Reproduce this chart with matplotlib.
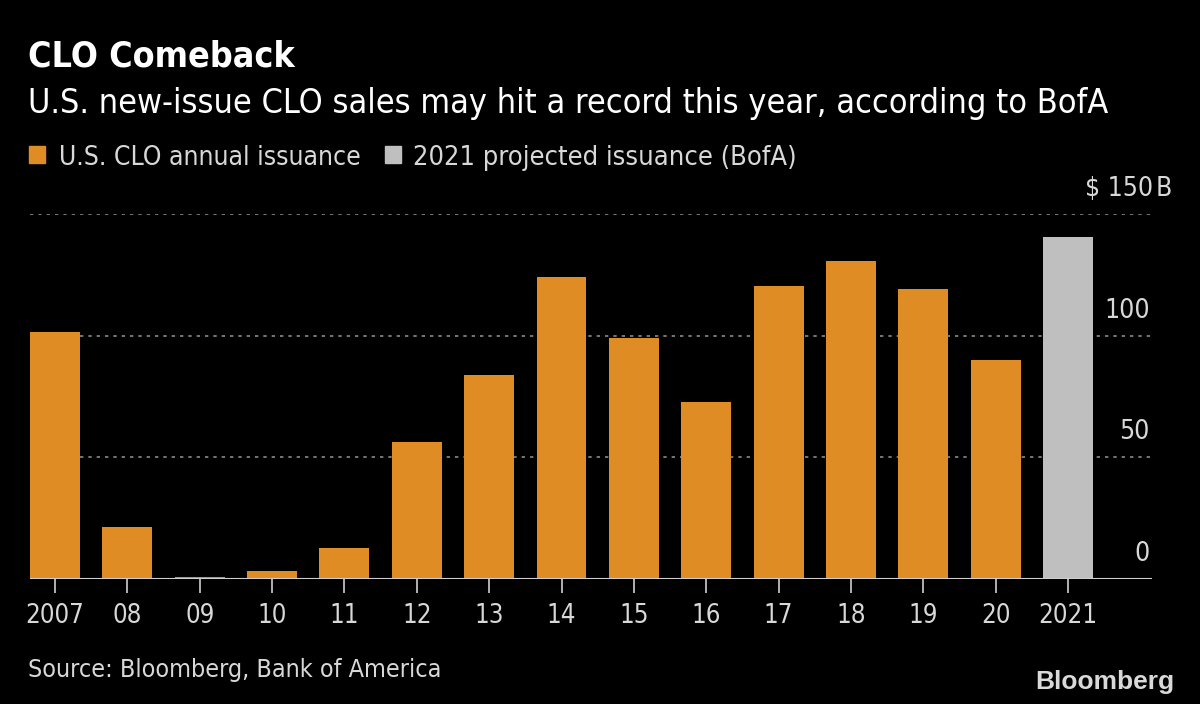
import numpy as np
import matplotlib.pyplot as plt
from matplotlib.patches import Rectangle

# data
years = ["2007", "08", "09", "10", "11", "12", "13", "14", "15", "16", "17", "18", "19", "20", "2021"]
issuance = [101.5, 21.4, 0.8, 3.3, 12.7, 56.3, 83.8, 124.1, 99.1, 72.7, 120.4, 130.7, 119.2, 90.0]
projected_2021 = 140.6
yticks = [0, 50, 100, 150]
ytick_labels = ["0", "50", "100", "$ 150"]

orange = "#E08C24"
grey = "#BFBFBF"
txt = "#D8D8D8"

plt.rcParams['font.family'] = ['DejaVu Sans']
plt.rcParams['font.stretch'] = 'condensed'

fig = plt.figure(figsize=(12, 7.04), dpi=100, facecolor="black")
ax = fig.add_axes([0.025, 0.1776, 0.935, 0.5184])
ax.set_facecolor("black")

x = np.arange(len(years))
ax.bar(x[:-1], issuance, width=0.69, color=orange, zorder=3)
ax.bar(x[-1], projected_2021, width=0.69, color=grey, zorder=3)

ax.set_xlim(-0.345, 15.16)
ax.set_ylim(0, 150)

# gridlines + labels on the right, sitting above the lines
for v, lab in zip(yticks, ytick_labels):
    if v > 0:
        ax.axhline(v, color="#8a8a8a", lw=1.2, ls=(0, (2, 3)), zorder=1)
    xr = 15.18 if v == 150 else 15.13
    ax.text(xr, v + 5, lab, color=txt, fontsize=19, ha="right", va="bottom")
ax.text(15.205, 155, "B", color=txt, fontsize=19, ha="left", va="bottom")
ax.axhline(0, color="#cfcfcf", lw=1.5, zorder=4)

ax.set_yticks([])
ax.set_xticks(x)
ax.set_xticklabels(years, color=txt, fontsize=18.5)
ax.tick_params(axis="x", length=10, width=1.2, color="#cfcfcf", pad=7)
for s in ax.spines.values():
    s.set_visible(False)

# titles
fig.text(0.023, 0.905, "CLO Comeback", color="white", fontsize=25.7, fontweight="bold")
fig.text(0.023, 0.84, "U.S. new-issue CLO sales may hit a record this year, according to BofA",
         color="white", fontsize=24.5)

# legend
fig.patches.append(Rectangle((0.0245, 0.768), 0.013, 0.024, transform=fig.transFigure, color=orange))
fig.text(0.049, 0.766, "U.S. CLO annual issuance", color=txt, fontsize=19)
fig.patches.append(Rectangle((0.321, 0.768), 0.013, 0.024, transform=fig.transFigure, color=grey))
fig.text(0.344, 0.766, "2021 projected issuance (BofA)", color=txt, fontsize=19.5)

# footer
fig.text(0.023, 0.038, "Source: Bloomberg, Bank of America", color=txt, fontsize=18)
fig.text(0.979, 0.022, "Bloomberg", color="#d9d9d9", fontsize=19, fontweight="bold", ha="right",
         family=["Liberation Sans", "DejaVu Sans"], stretch="normal")

fig.savefig("out.png", dpi=100, facecolor="black")
